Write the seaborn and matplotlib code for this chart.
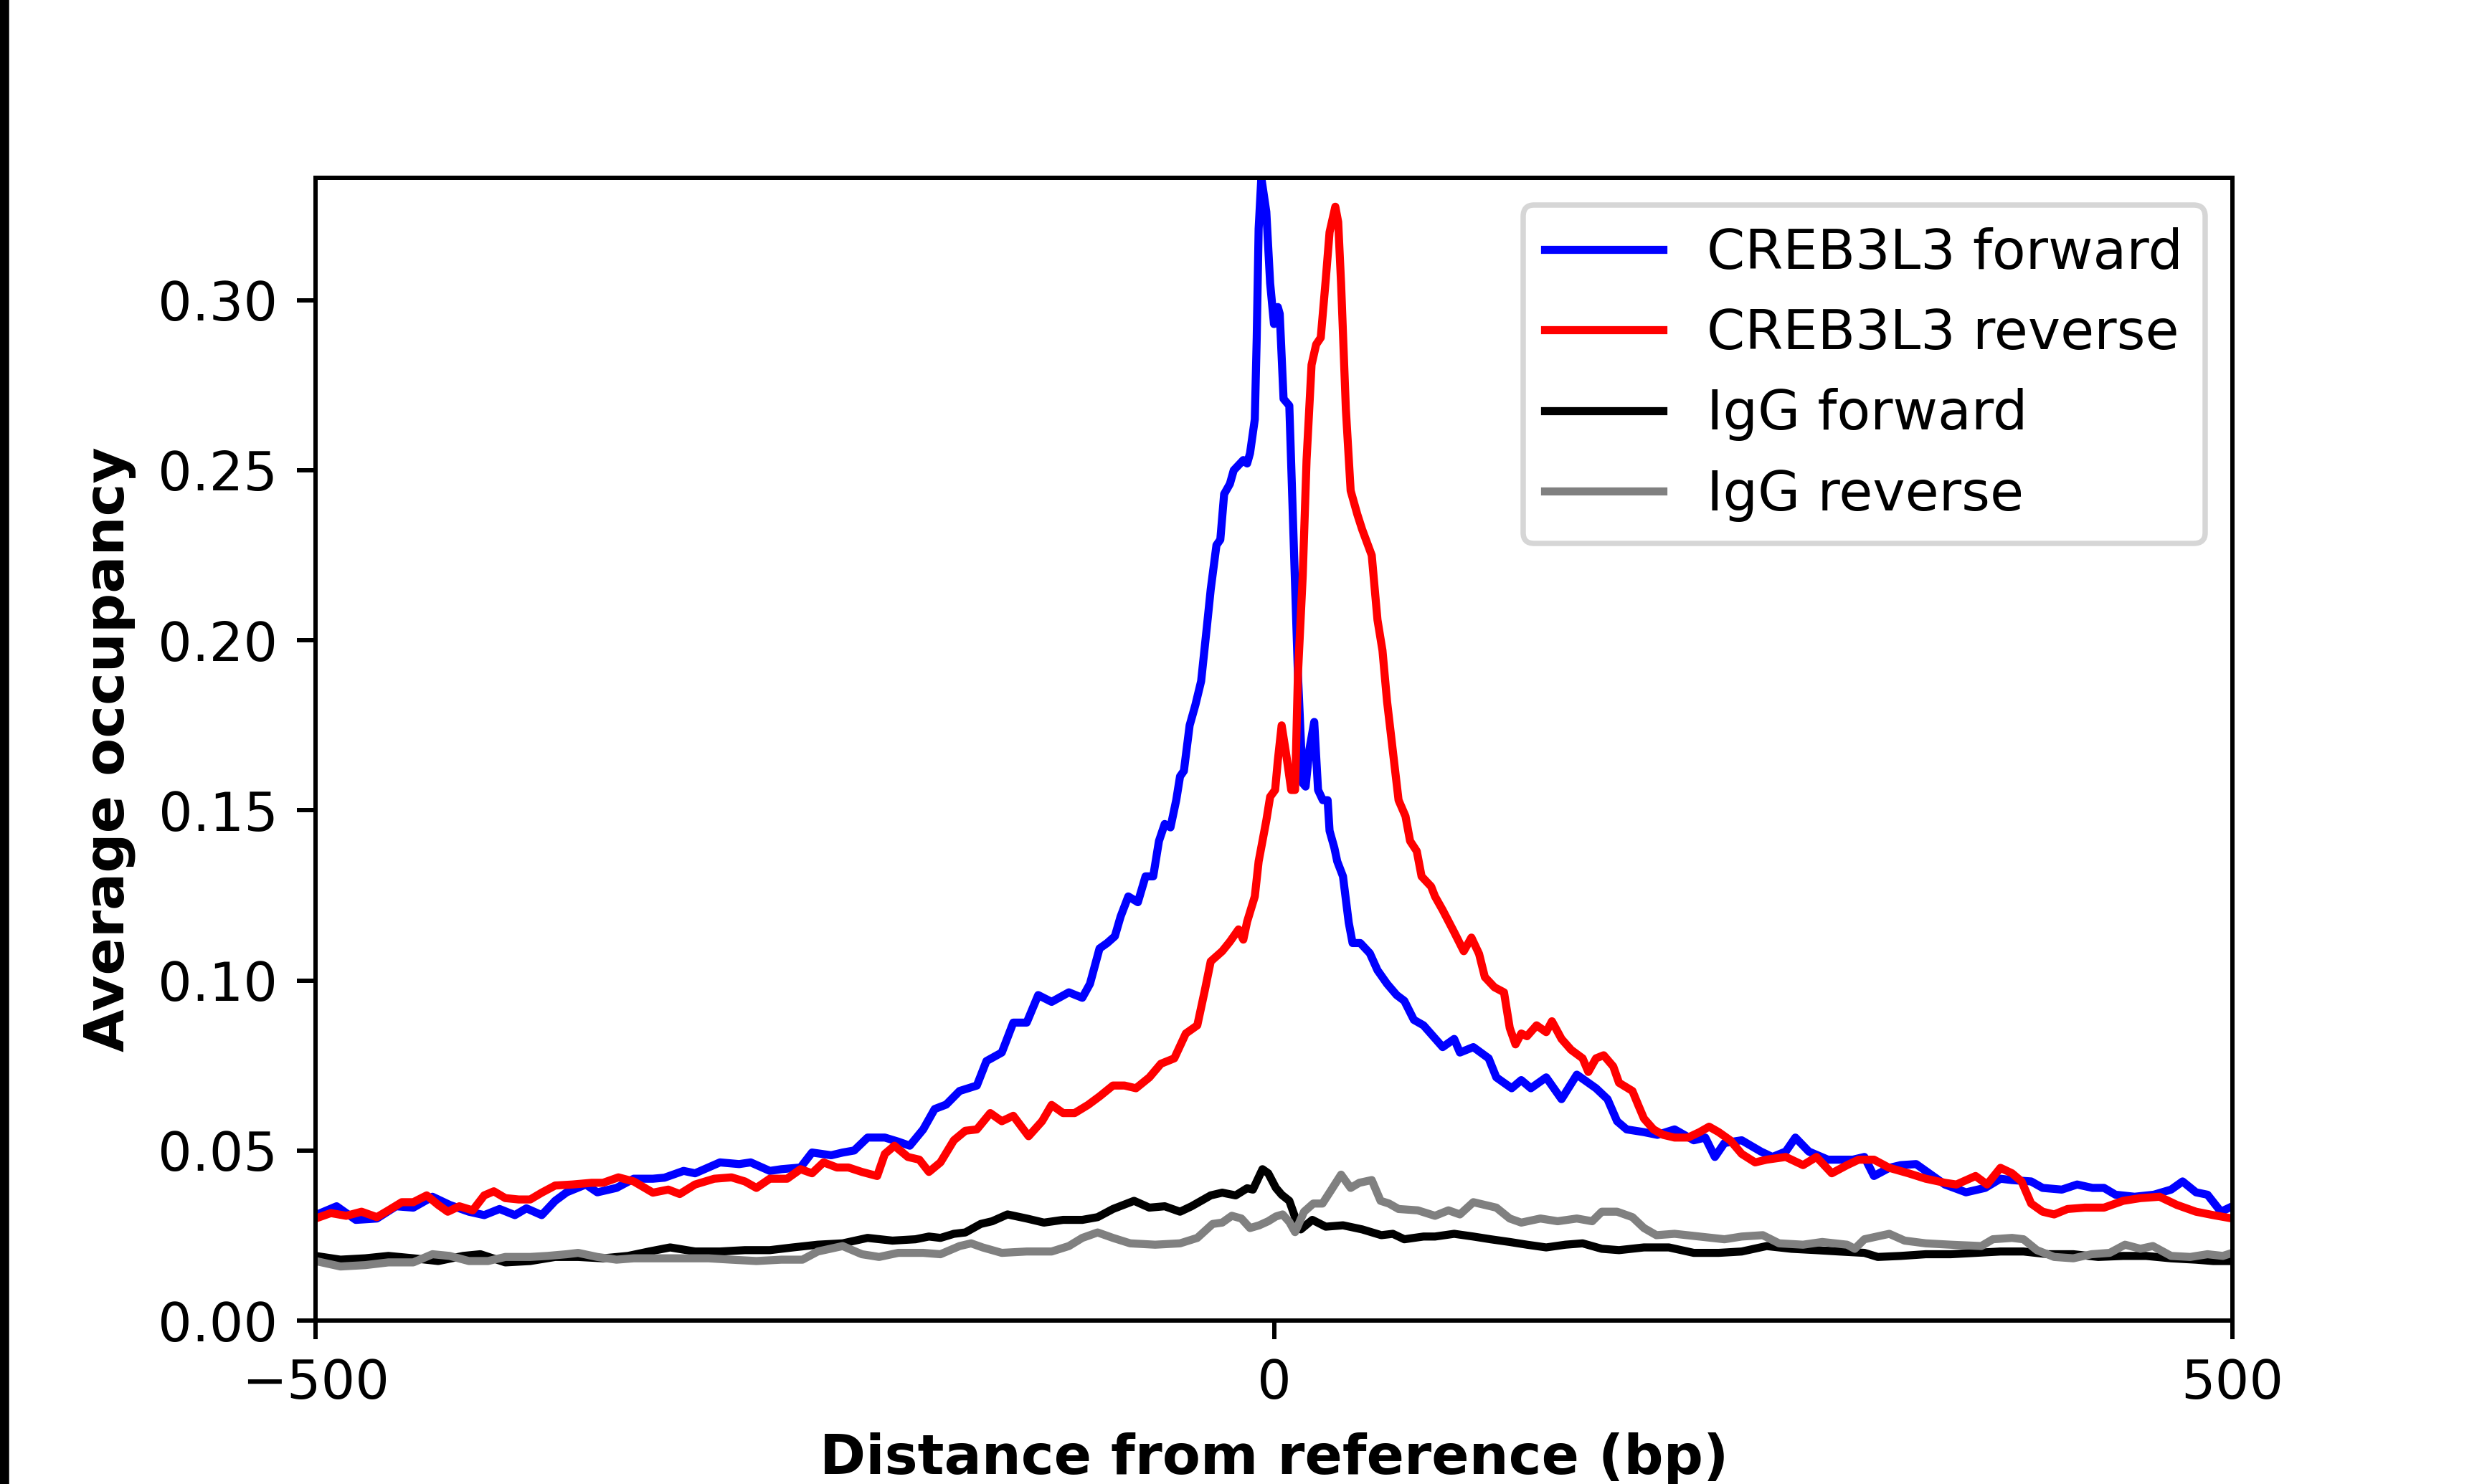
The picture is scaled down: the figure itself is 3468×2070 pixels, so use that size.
import pandas as pd
import numpy as np
import matplotlib.pyplot as plt
import seaborn as sns
from matplotlib.patches import Rectangle


# Values (bp, average occupancy)
creb_fwd = [(-500, 0.031), (-489, 0.0336), (-479, 0.0296), (-468, 0.030), (-458, 0.0336), (-449, 0.0332),
            (-439, 0.0364), (-430, 0.034), (-420, 0.032), (-412, 0.031), (-404, 0.0328), (-396, 0.031),
            (-390, 0.033), (-382, 0.031), (-375, 0.0352), (-369, 0.0377), (-359, 0.040), (-353, 0.0377),
            (-343, 0.039), (-334, 0.0417), (-324, 0.0417), (-318, 0.042), (-308, 0.044), (-302, 0.0433),
            (-289, 0.0465), (-279, 0.046), (-273, 0.0465), (-263, 0.044), (-257, 0.0445), (-247, 0.045),
            (-241, 0.0494), (-231, 0.0486), (-225, 0.0494), (-219, 0.050), (-212, 0.0538), (-203, 0.0538),
            (-196, 0.0526), (-190, 0.0514), (-183, 0.0562), (-177, 0.0622), (-171, 0.0635), (-164, 0.0675),
            (-155, 0.0691), (-150, 0.0763), (-142, 0.0788), (-136, 0.0876), (-129, 0.0876), (-123, 0.0957),
            (-116, 0.0937), (-107, 0.0965), (-100, 0.0949), (-96, 0.099), (-91, 0.1094), (-87, 0.111),
            (-83, 0.113), (-80, 0.1188), (-76, 0.1247), (-71, 0.123), (-67, 0.1306), (-63, 0.1306),
            (-60, 0.141), (-57, 0.146), (-54, 0.145), (-51, 0.153), (-49, 0.160), (-47, 0.1616),
            (-44, 0.175), (-41, 0.181), (-38, 0.188), (-35, 0.204), (-33, 0.215), (-30, 0.228),
            (-28, 0.2296), (-26, 0.243), (-23, 0.246), (-21, 0.250), (-16, 0.253), (-14, 0.252),
            (-12.5, 0.255), (-10, 0.265), (-9, 0.289), (-8, 0.321), (-6.6, 0.336), (-4, 0.326),
            (-2, 0.305), (0, 0.293), (2, 0.298), (3, 0.296), (5, 0.271), (8, 0.269), (10, 0.234),
            (12.5, 0.190), (15, 0.158), (16.5, 0.157), (18.5, 0.168), (21, 0.176), (23, 0.156),
            (25.5, 0.153), (28, 0.153), (29, 0.144), (31.5, 0.139), (33, 0.135), (36, 0.1306),
            (39, 0.117), (41, 0.111), (45, 0.111), (50, 0.108), (54, 0.103), (59, 0.099), (64, 0.0957),
            (68, 0.094), (73, 0.0884), (78, 0.0868), (83, 0.0836), (88, 0.0804), (94, 0.0828),
            (97, 0.0788), (104, 0.0804), (112, 0.0771), (116, 0.0715), (124, 0.0683), (129, 0.0707),
            (134, 0.0683), (142, 0.0715), (150, 0.0651), (158, 0.0723), (168, 0.0683), (174, 0.0651),
            (179, 0.0586), (184, 0.0562), (193, 0.0554), (200, 0.0546), (209, 0.0562), (219, 0.053),
            (225, 0.0538), (230, 0.0481), (235, 0.0522), (244, 0.053), (254, 0.0497), (260, 0.0481),
            (267, 0.0497), (272, 0.0538), (279, 0.0497), (289, 0.0473), (302, 0.0473), (308, 0.0481),
            (313, 0.0425), (321, 0.0449), (327, 0.0457), (335, 0.046), (340, 0.044), (350, 0.040),
            (361, 0.0377), (371, 0.039), (379, 0.0417), (385, 0.0413), (395, 0.0409), (401, 0.039),
            (411, 0.0385), (419, 0.040), (427, 0.039), (433, 0.039), (439, 0.037), (449, 0.0364),
            (459, 0.037), (468, 0.0385), (474, 0.0409), (481, 0.0377), (487, 0.037), (494, 0.032),
            (500, 0.0336)]

creb_rev = [(-500, 0.030), (-492, 0.0316), (-484, 0.0308), (-476, 0.032), (-468, 0.0304), (-462, 0.0324),
            (-455, 0.0348), (-449, 0.0348), (-442, 0.0368), (-436, 0.034), (-431, 0.032), (-425, 0.0336),
            (-418, 0.0324), (-412, 0.0368), (-407, 0.038), (-401, 0.036), (-394, 0.0356), (-388, 0.0356),
            (-382, 0.0376), (-375, 0.0397), (-366, 0.040), (-356, 0.0405), (-350, 0.0405), (-342, 0.0421),
            (-334, 0.0409), (-324, 0.0376), (-316, 0.0385), (-310, 0.0372), (-302, 0.040), (-292, 0.0417),
            (-283, 0.0421), (-276, 0.0409), (-270, 0.039), (-263, 0.0417), (-254, 0.0417), (-247, 0.0445),
            (-241, 0.0433), (-235, 0.0465), (-228, 0.045), (-222, 0.045), (-215, 0.0437), (-207, 0.0425),
            (-203, 0.049), (-198, 0.0514), (-191, 0.0481), (-185, 0.0473), (-180, 0.0437), (-174, 0.0465),
            (-167, 0.053), (-161, 0.0558), (-155, 0.0562), (-148, 0.061), (-142, 0.0586), (-136, 0.0602),
            (-128, 0.0542), (-121, 0.0586), (-116, 0.0634), (-110, 0.061), (-104, 0.061), (-97, 0.0634),
            (-91, 0.0659), (-84, 0.0691), (-78, 0.0691), (-72, 0.0683), (-65, 0.0715), (-59, 0.0755),
            (-52, 0.0771), (-46, 0.0844), (-40, 0.0868), (-36, 0.0973), (-33, 0.1056), (-27, 0.1086),
            (-23, 0.1114), (-18.5, 0.115), (-16, 0.112), (-14, 0.1173), (-10, 0.1247), (-8, 0.135),
            (-4, 0.147), (-2, 0.154), (0.6, 0.156), (2, 0.1646), (4, 0.175), (6.5, 0.166), (9, 0.156),
            (11, 0.156), (12.5, 0.190), (15, 0.219), (17, 0.253), (19.6, 0.281), (22, 0.287),
            (24.4, 0.289), (27, 0.306), (29, 0.320), (32, 0.3275), (33.5, 0.323), (35, 0.305),
            (37.5, 0.268), (40, 0.244), (43.5, 0.237), (46, 0.2326), (51, 0.225), (54, 0.206),
            (56.6, 0.197), (59, 0.182), (62.6, 0.1646), (65, 0.153), (68.6, 0.1483), (71, 0.141),
            (74.5, 0.138), (77, 0.1306), (82, 0.1276), (84, 0.1247), (88, 0.1207), (94, 0.1142),
            (99, 0.1086), (103, 0.1126), (107, 0.1078), (110, 0.101), (115, 0.098), (120, 0.0965),
            (123, 0.086), (126, 0.0812), (129, 0.0844), (132, 0.0836), (137, 0.0868), (142, 0.0848),
            (145, 0.088), (150, 0.0828), (155, 0.0796), (161, 0.0771), (164, 0.0731), (168, 0.0771),
            (172, 0.078), (177, 0.0747), (180, 0.0699), (187, 0.0675), (190, 0.0634), (193, 0.0594),
            (198, 0.0562), (203, 0.0546), (209, 0.0538), (216, 0.0538), (222, 0.0554), (227, 0.057),
            (232, 0.0554), (238, 0.053), (244, 0.049), (251, 0.0465), (257, 0.0473), (267, 0.0481),
            (276, 0.0457), (283, 0.0481), (291, 0.0433), (299, 0.0457), (305, 0.0473), (313, 0.0473),
            (321, 0.0449), (331, 0.0433), (340, 0.0417), (350, 0.0405), (356, 0.040), (366, 0.0425),
            (372, 0.040), (379, 0.0449), (385, 0.0433), (390, 0.0409), (395, 0.0344), (401, 0.032),
            (407, 0.0312), (414, 0.0328), (423, 0.0332), (433, 0.0332), (443, 0.0352), (452, 0.036),
            (462, 0.0364), (471, 0.034), (481, 0.032), (490, 0.031), (500, 0.030)]

igg_fwd = [(-500, 0.019), (-487, 0.0179), (-474, 0.0183), (-462, 0.019), (-449, 0.0183), (-436, 0.0175),
           (-423, 0.019), (-414, 0.0195), (-401, 0.0171), (-388, 0.0175), (-375, 0.0187), (-363, 0.0187),
           (-350, 0.0183), (-337, 0.019), (-326, 0.0203), (-315, 0.0215), (-302, 0.0203), (-289, 0.0203),
           (-276, 0.0207), (-263, 0.0207), (-251, 0.0215), (-238, 0.0223), (-225, 0.0227), (-212, 0.0243),
           (-199, 0.0235), (-187, 0.0239), (-180, 0.0247), (-174, 0.0243), (-167, 0.0255), (-161, 0.0259),
           (-153, 0.0284), (-147, 0.0292), (-139, 0.0312), (-129, 0.030), (-120, 0.0288), (-110, 0.0296),
           (-100, 0.0296), (-92, 0.0304), (-84, 0.0328), (-73, 0.0352), (-65, 0.0332), (-57, 0.0336),
           (-49, 0.032), (-43, 0.0336), (-33, 0.0368), (-27, 0.0376), (-20, 0.0368), (-14, 0.0389),
           (-11, 0.0385), (-6, 0.0445), (-3, 0.0433), (1, 0.039), (4, 0.037), (8, 0.0352), (11, 0.0304),
           (14, 0.0268), (20, 0.0296), (27, 0.0276), (36, 0.028), (46, 0.0268), (56, 0.0251), (62, 0.0255),
           (68, 0.0239), (78, 0.0247), (84, 0.0247), (94, 0.0255), (104, 0.0247), (113, 0.0239),
           (123, 0.0231), (132, 0.0223), (142, 0.0215), (152, 0.0223), (161, 0.0227), (171, 0.0211),
           (180, 0.0207), (193, 0.0215), (206, 0.0215), (219, 0.0199), (232, 0.0199), (244, 0.0203),
           (257, 0.0219), (270, 0.0211), (283, 0.0207), (295, 0.0203), (308, 0.0199), (315, 0.0187),
           (327, 0.019), (340, 0.0195), (353, 0.0195), (366, 0.0199), (379, 0.0203), (391, 0.0203),
           (404, 0.0195), (417, 0.0195), (430, 0.0187), (443, 0.019), (455, 0.019), (468, 0.0183),
           (481, 0.0179), (490, 0.0175), (500, 0.0175)]

igg_rev = [(-500, 0.0175), (-487, 0.0159), (-474, 0.0163), (-462, 0.0171), (-449, 0.0171), (-439, 0.0195),
           (-430, 0.019), (-420, 0.0175), (-410, 0.0175), (-401, 0.0187), (-388, 0.0187), (-379, 0.019),
           (-369, 0.0195), (-363, 0.0199), (-353, 0.0187), (-343, 0.0179), (-334, 0.0183), (-321, 0.0183),
           (-308, 0.0183), (-295, 0.0183), (-283, 0.0179), (-270, 0.0175), (-257, 0.0179), (-246, 0.0179),
           (-238, 0.0203), (-225, 0.0219), (-215, 0.0195), (-206, 0.0187), (-196, 0.0199), (-183, 0.0199),
           (-174, 0.0195), (-164, 0.0219), (-158, 0.0227), (-152, 0.0215), (-142, 0.0199), (-129, 0.0203),
           (-116, 0.0203), (-107, 0.0219), (-100, 0.0243), (-92, 0.0259), (-84, 0.0243), (-75, 0.0227),
           (-62, 0.0223), (-49, 0.0227), (-40, 0.0243), (-32, 0.0284), (-27, 0.0288), (-22, 0.0308),
           (-17, 0.030), (-12.5, 0.0272), (-7.7, 0.028), (-3, 0.0292), (1, 0.0306), (4.5, 0.0312),
           (8, 0.029), (11, 0.026), (15.7, 0.032), (20.5, 0.0344), (25.3, 0.0344), (30, 0.0385),
           (35, 0.0429), (40, 0.039), (44.5, 0.0405), (51, 0.0413), (55.6, 0.0352), (60, 0.0344),
           (65, 0.0328), (75, 0.0324), (84, 0.0308), (91, 0.0324), (97, 0.0312), (104, 0.0348),
           (110, 0.034), (116, 0.0332), (123, 0.030), (129, 0.0288), (139, 0.030), (148, 0.0292),
           (158, 0.030), (166, 0.0292), (171, 0.032), (179, 0.032), (187, 0.0304), (193, 0.0272),
           (199.5, 0.0251), (209, 0.0255), (222, 0.0247), (235, 0.0239), (244, 0.0247), (255, 0.0251),
           (263.5, 0.0227), (276, 0.0223), (286, 0.0231), (299, 0.0223), (303, 0.0211), (308, 0.0239),
           (321, 0.0255), (329, 0.0235), (340, 0.0227), (353, 0.0223), (369, 0.0219), (375, 0.0239),
           (385, 0.0243), (391, 0.0239), (398, 0.0207), (407, 0.0187), (417, 0.0183), (426.5, 0.0195),
           (436, 0.0199), (444, 0.0223), (452, 0.0211), (458.5, 0.0219), (468, 0.019), (478, 0.0187),
           (487, 0.0195), (495, 0.019), (500, 0.0199)]

series = [("CREB3L3 forward", creb_fwd, "blue"),
          ("CREB3L3 reverse", creb_rev, "red"),
          ("IgG forward", igg_fwd, "black"),
          ("IgG reverse", igg_rev, "gray")]

W, H, DPI = 3468, 2070, 540
fig = plt.figure(figsize=(W / DPI, H / DPI), dpi=DPI)
ax = fig.add_axes([440 / W, 1 - 1842 / H, (3113 - 440) / W, (1842 - 248) / H])

for name, pts, col in series:
    d = pd.DataFrame(pts, columns=["bp", "occ"])
    sns.lineplot(data=d, x="bp", y="occ", color=col, linewidth=1.5, label=name, ax=ax)

ax.set_xlim(-500, 500)
ax.set_ylim(0, 0.336)
ax.set_xticks([-500, 0, 500])
ax.set_yticks(np.arange(0, 0.31, 0.05))
ax.set_xlabel("Distance from reference (bp)", fontweight="bold", fontsize=10.3)
ax.set_ylabel("Average occupancy", fontweight="bold", fontsize=10.3)
ax.legend(loc="upper right", fontsize=10.2, handlelength=2.15)

# dark strip on the left edge of the original image
fig.add_artist(Rectangle((0, 0), 9 / W, 1, transform=fig.transFigure, color="black"))

fig.savefig("out.png", dpi=DPI)
